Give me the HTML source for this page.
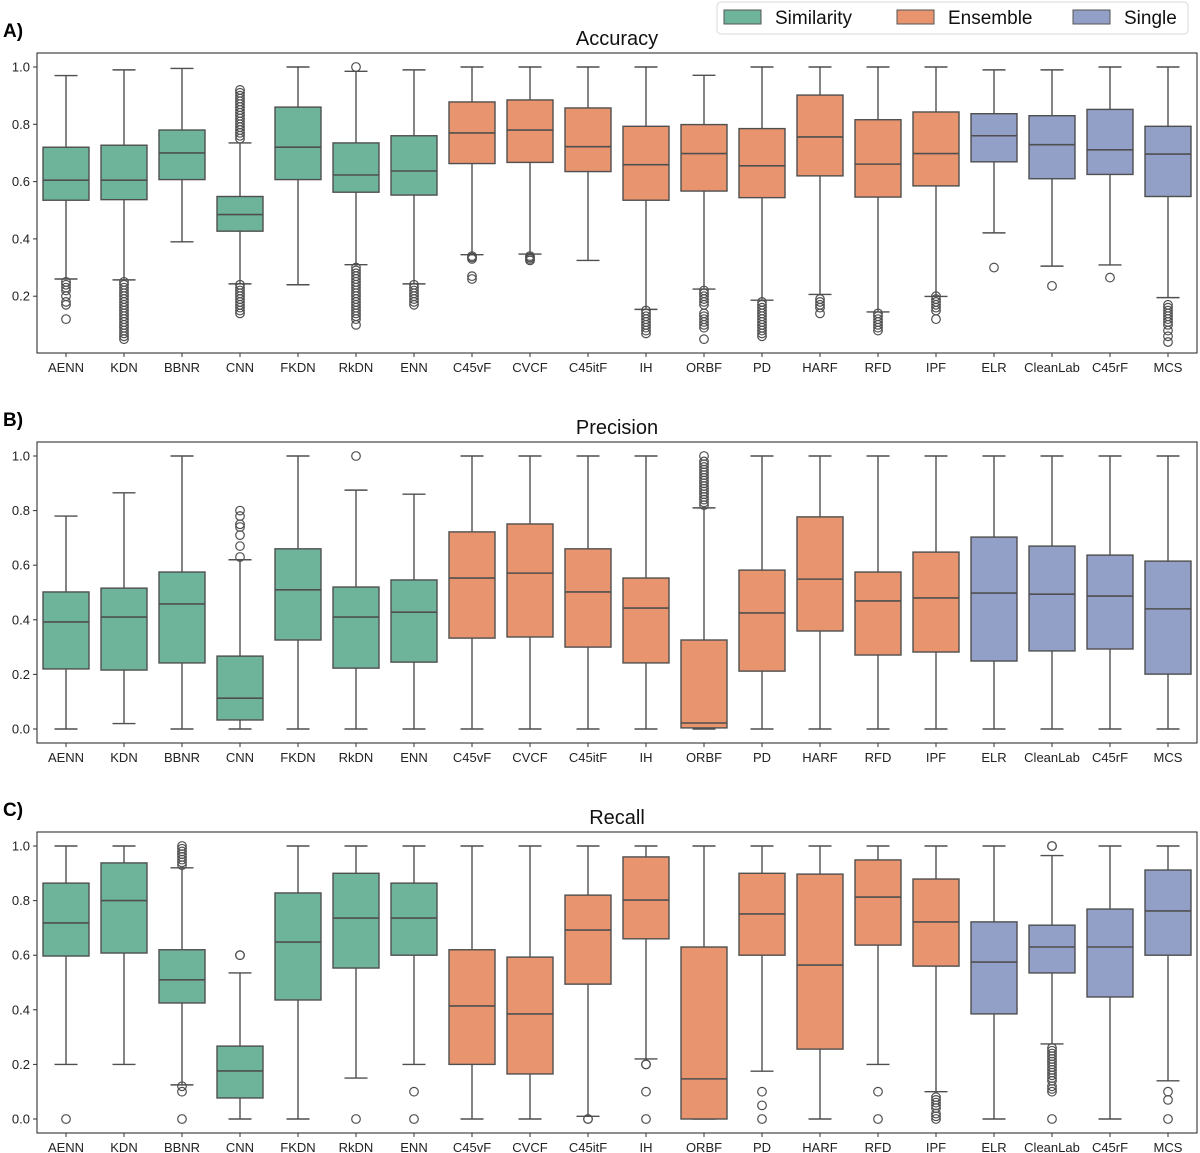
<!DOCTYPE html>
<html><head><meta charset="utf-8"><style>
html,body{margin:0;padding:0;background:#fff;}
svg{display:block;font-family:"Liberation Sans","DejaVu Sans",sans-serif;}
</style></head><body>
<svg id="chart" width="1200" height="1153" viewBox="0 0 1200 1153" xmlns="http://www.w3.org/2000/svg">
<g>
<rect x="717" y="2" width="471" height="32" rx="4" fill="#fff" stroke="#d8d8d8"/>
<g><rect x="724" y="10" width="37" height="14" fill="#6db49b" stroke="#555"/><text x="775" y="24" font-size="19" fill="#111">Similarity</text></g>
<g><rect x="897" y="10" width="37" height="14" fill="#e8956f" stroke="#555"/><text x="948" y="24" font-size="19" fill="#111">Ensemble</text></g>
<g><rect x="1073" y="10" width="37" height="14" fill="#929fc6" stroke="#555"/><text x="1124" y="24" font-size="19" fill="#111">Single</text></g>
</g>
</svg>
<script>
const categories=["AENN","KDN","BBNR","CNN","FKDN","RkDN","ENN","C45vF","CVCF","C45itF","IH","ORBF","PD","HARF","RFD","IPF","ELR","CleanLab","C45rF","MCS"];
const groups=["S","S","S","S","S","S","S","E","E","E","E","E","E","E","E","E","X","X","X","X"];
// [whislo, q1, median, q3, whishi]
const accStats=[[0.26,0.535,0.605,0.72,0.97],[0.257,0.537,0.605,0.727,0.99],[0.39,0.607,0.70,0.78,0.995],[0.243,0.427,0.485,0.548,0.735],[0.24,0.607,0.72,0.86,1.0],[0.31,0.563,0.623,0.735,0.985],[0.243,0.553,0.637,0.76,0.99],[0.345,0.663,0.77,0.878,1.0],[0.347,0.667,0.78,0.885,1.0],[0.325,0.635,0.722,0.857,1.0],[0.154,0.535,0.659,0.793,1.0],[0.225,0.567,0.698,0.799,0.971],[0.186,0.544,0.655,0.785,1.0],[0.206,0.62,0.756,0.902,1.0],[0.145,0.546,0.661,0.816,1.0],[0.199,0.585,0.698,0.843,1.0],[0.421,0.669,0.76,0.837,0.99],[0.305,0.61,0.729,0.83,0.99],[0.309,0.625,0.711,0.852,1.0],[0.195,0.548,0.696,0.793,1.0]];
const accOut=[[0.25,0.24,0.23,0.22,0.2,0.18,0.17,0.12],[0.25,0.24,0.23,0.22,0.21,0.2,0.19,0.18,0.17,0.16,0.15,0.14,0.13,0.12,0.11,0.1,0.09,0.08,0.07,0.06,0.05],[],[0.75,0.76,0.77,0.78,0.79,0.8,0.81,0.82,0.83,0.84,0.85,0.86,0.87,0.88,0.89,0.9,0.91,0.92,0.24,0.23,0.22,0.21,0.2,0.19,0.18,0.17,0.16,0.15,0.14],[],[1.0,0.3,0.29,0.28,0.27,0.26,0.25,0.24,0.23,0.22,0.21,0.2,0.19,0.18,0.17,0.16,0.15,0.14,0.13,0.12,0.1],[0.24,0.23,0.22,0.21,0.2,0.19,0.18,0.17],[0.34,0.335,0.33,0.27,0.26],[0.34,0.335,0.33,0.325],[],[0.15,0.14,0.13,0.12,0.11,0.1,0.09,0.08,0.07],[0.22,0.21,0.2,0.19,0.18,0.17,0.14,0.13,0.12,0.11,0.1,0.09,0.05],[0.18,0.17,0.16,0.15,0.14,0.13,0.12,0.11,0.1,0.09,0.08,0.07,0.06],[0.19,0.18,0.17,0.16,0.14],[0.14,0.13,0.12,0.11,0.1,0.09,0.08],[0.2,0.19,0.18,0.17,0.16,0.15,0.12],[0.30],[0.236],[0.265],[0.17,0.16,0.15,0.14,0.13,0.12,0.11,0.1,0.08,0.06,0.04]];
const precStats=[[0,0.22,0.392,0.502,0.78],[0.02,0.216,0.41,0.516,0.865],[0,0.242,0.458,0.575,1.0],[0,0.033,0.113,0.267,0.62],[0,0.326,0.51,0.66,1.0],[0,0.223,0.41,0.52,0.875],[0,0.245,0.428,0.546,0.86],[0,0.333,0.553,0.722,1.0],[0,0.337,0.571,0.751,1.0],[0,0.3,0.502,0.66,1.0],[0,0.242,0.443,0.553,1.0],[0,0.004,0.022,0.326,0.81],[0,0.212,0.425,0.582,1.0],[0,0.359,0.549,0.777,1.0],[0,0.271,0.469,0.575,1.0],[0,0.282,0.48,0.648,1.0],[0,0.249,0.498,0.703,1.0],[0,0.286,0.494,0.67,1.0],[0,0.293,0.487,0.637,1.0],[0,0.201,0.44,0.615,1.0]];
const precOut=[[],[],[],[0.63,0.67,0.71,0.74,0.75,0.78,0.8],[],[1.0],[],[],[],[],[],[0.82,0.83,0.84,0.85,0.86,0.87,0.88,0.89,0.9,0.91,0.92,0.93,0.94,0.95,0.96,0.97,0.98,1.0],[],[],[],[],[],[],[],[]];
const recStats=[[0.2,0.597,0.718,0.864,1.0],[0.2,0.608,0.8,0.938,1.0],[0.125,0.425,0.51,0.62,0.92],[0,0.077,0.176,0.267,0.535],[0,0.436,0.648,0.828,1.0],[0.15,0.553,0.736,0.9,1.0],[0.2,0.6,0.736,0.864,1.0],[0,0.2,0.414,0.62,1.0],[0,0.165,0.385,0.593,1.0],[0.01,0.494,0.692,0.82,1.0],[0.22,0.66,0.802,0.96,1.0],[0,0,0.147,0.63,1.0],[0.175,0.6,0.751,0.9,1.0],[0,0.256,0.564,0.897,1.0],[0.2,0.637,0.813,0.949,1.0],[0.1,0.56,0.722,0.879,1.0],[0,0.385,0.575,0.722,1.0],[0.275,0.535,0.63,0.71,0.965],[0,0.447,0.63,0.769,1.0],[0.14,0.6,0.762,0.912,1.0]];
const recOut=[[0],[],[0.93,0.94,0.95,0.96,0.97,0.98,0.99,1.0,0.12,0.1,0],[0.6,0.6],[],[0],[0.1,0],[],[],[0,0],[0.2,0.2,0.1,0],[],[0.1,0.05,0],[],[0.1,0],[0.08,0.07,0.06,0.05,0.04,0.02,0.01,0],[],[1.0,1.0,0.26,0.25,0.24,0.23,0.22,0.21,0.2,0.19,0.18,0.17,0.16,0.15,0.14,0.12,0.11,0.1,0],[],[0.1,0.07,0]];
const accTicks=["0.2","0.4","0.6","0.8","1.0"];
const prTicks=["0.0","0.2","0.4","0.6","0.8","1.0"];

const NS="http://www.w3.org/2000/svg";
const svg=document.getElementById('chart');
const colors={S:"#6db49b",E:"#e8956f",X:"#929fc6"};
const EDGE="#4f4f4f";
function mk(tag,attrs,parent){const e=document.createElementNS(NS,tag);for(const k in attrs)e.setAttribute(k,attrs[k]);(parent||svg).appendChild(e);return e;}
function xScale(i){return 66+58*i;}
const panels=[
 {key:"accuracy",label:"A)",title:"Accuracy",top:53,bottom:353,stats:accStats,outs:accOut,ticks:accTicks,y:v=>67+(1-v)*286.5},
 {key:"precision",label:"B)",title:"Precision",top:442,bottom:743,stats:precStats,outs:precOut,ticks:prTicks,y:v=>729-273*v},
 {key:"recall",label:"C)",title:"Recall",top:832,bottom:1133,stats:recStats,outs:recOut,ticks:prTicks,y:v=>1119-273*v}
];
panels.forEach(p=>{
 const g=mk('g',{});
 
 
 const lab=mk('text',{x:3,y:p.top-16,'font-size':19,'font-weight':'bold',fill:'#000'},g);lab.textContent=p.label;
 
 
 const tt=mk('text',{x:617,y:p.top-8,'font-size':20,'text-anchor':'middle',fill:'#111'},g);tt.textContent=p.title;
 
 
 p.ticks.forEach(t=>{
  const yy=p.y(parseFloat(t));
  mk('line',{x1:33,x2:37,y1:yy,y2:yy,stroke:'#333'},g);
  const tx=mk('text',{x:30,y:yy+4.5,'font-size':13,'text-anchor':'end',fill:'#222'},g);tx.textContent=t;
  
  
 });
 categories.forEach((c,i)=>{
  const s=p.stats[i],x=xScale(i),hw=23,cw=11.5;
  const bg=mk('g',{},g);
  
  
  mk('line',{x1:x,x2:x,y1:p.y(s[4]),y2:p.y(s[3]),stroke:EDGE,'stroke-width':1.4},bg);
  mk('line',{x1:x,x2:x,y1:p.y(s[1]),y2:p.y(s[0]),stroke:EDGE,'stroke-width':1.4},bg);
  mk('line',{x1:x-cw,x2:x+cw,y1:p.y(s[4]),y2:p.y(s[4]),stroke:EDGE,'stroke-width':1.4},bg);
  mk('line',{x1:x-cw,x2:x+cw,y1:p.y(s[0]),y2:p.y(s[0]),stroke:EDGE,'stroke-width':1.4},bg);
  mk('rect',{x:x-hw,y:p.y(s[3]),width:2*hw,height:Math.max(0.5,p.y(s[1])-p.y(s[3])),fill:colors[groups[i]],stroke:EDGE,'stroke-width':1.4},bg);
  mk('line',{x1:x-hw,x2:x+hw,y1:p.y(s[2]),y2:p.y(s[2]),stroke:EDGE,'stroke-width':1.6},bg);
  p.outs[i].forEach(v=>{
   const o=mk('circle',{cx:x,cy:p.y(v),r:4.3,fill:'none',stroke:EDGE,'stroke-width':1.2},bg);
   
   
  });
  mk('line',{x1:x,x2:x,y1:p.bottom,y2:p.bottom+4,stroke:'#333'},g);
  const xl=mk('text',{x:x,y:p.bottom+19,'font-size':13,'text-anchor':'middle',fill:'#222'},g);xl.textContent=c;
  
  
 });
 const fr=mk('rect',{x:37,y:p.top,width:1160,height:p.bottom-p.top,fill:'none',stroke:'#333','stroke-width':1.1},g);
 
 
});
</script>
</body></html>
